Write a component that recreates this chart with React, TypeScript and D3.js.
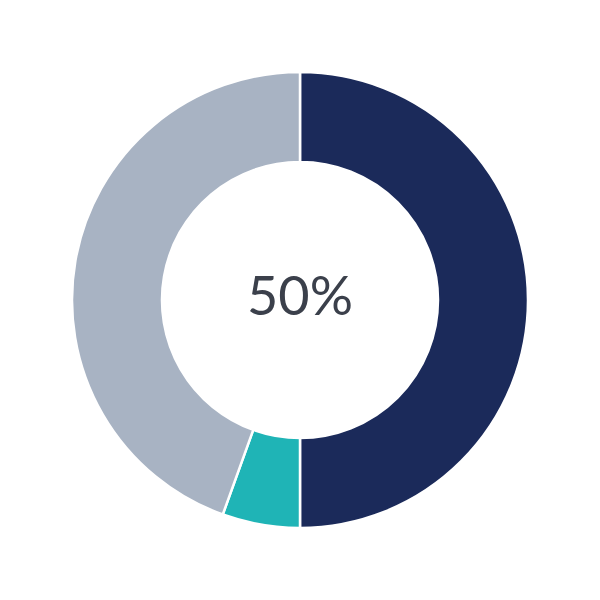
import React, { useEffect, useRef } from "react";
import * as d3 from "d3";

const labels = ["Completed", "In progress", "Remaining"];
const values = [50, 5.5, 44.5];
const colors = ["#1b2a5a", "#1fb4b6", "#a8b3c3"];
const centerLabel = "50%";

const DonutChart: React.FC = () => {
  const svgRef = useRef<SVGSVGElement>(null);

  useEffect(() => {
    const width = 600;
    const height = 600;
    const outer = 228;
    const inner = 138;

    const data = labels.map((label, i) => ({ label, value: values[i] }));

    const color = d3.scaleOrdinal<string, string>().domain(labels).range(colors);

    const pie = d3
      .pie<{ label: string; value: number }>()
      .sort(null)
      .value(d => d.value);

    const arc = d3
      .arc<d3.PieArcDatum<{ label: string; value: number }>>()
      .outerRadius(outer)
      .innerRadius(inner);

    const svg = d3.select(svgRef.current).attr("width", width).attr("height", height);
    svg.selectAll("*").remove();

    const g = svg.append("g").attr("transform", `translate(${width / 2}, ${height / 2})`);

    g.selectAll("path")
      .data(pie(data))
      .enter()
      .append("path")
      .attr("d", arc)
      .style("fill", d => color(d.data.label))
      .style("stroke", "#fff")
      .style("stroke-width", 2.5);

    // texto central
    g.append("text")
      .attr("x", 0)
      .attr("y", -4)
      .attr("dy", "0.35em")
      .attr("text-anchor", "middle")
      .style("font-family", "Lato, 'Open Sans', sans-serif")
      .style("font-size", "54px")
      .style("fill", "#3b404b")
      .text(centerLabel);
  }, []);

  return (
    <svg
      ref={svgRef}
      style={{ position: "absolute", left: 0, top: 0, display: "block", background: "#fff" }}
    ></svg>
  );
};

export default function App() {
  return <DonutChart />;
}
